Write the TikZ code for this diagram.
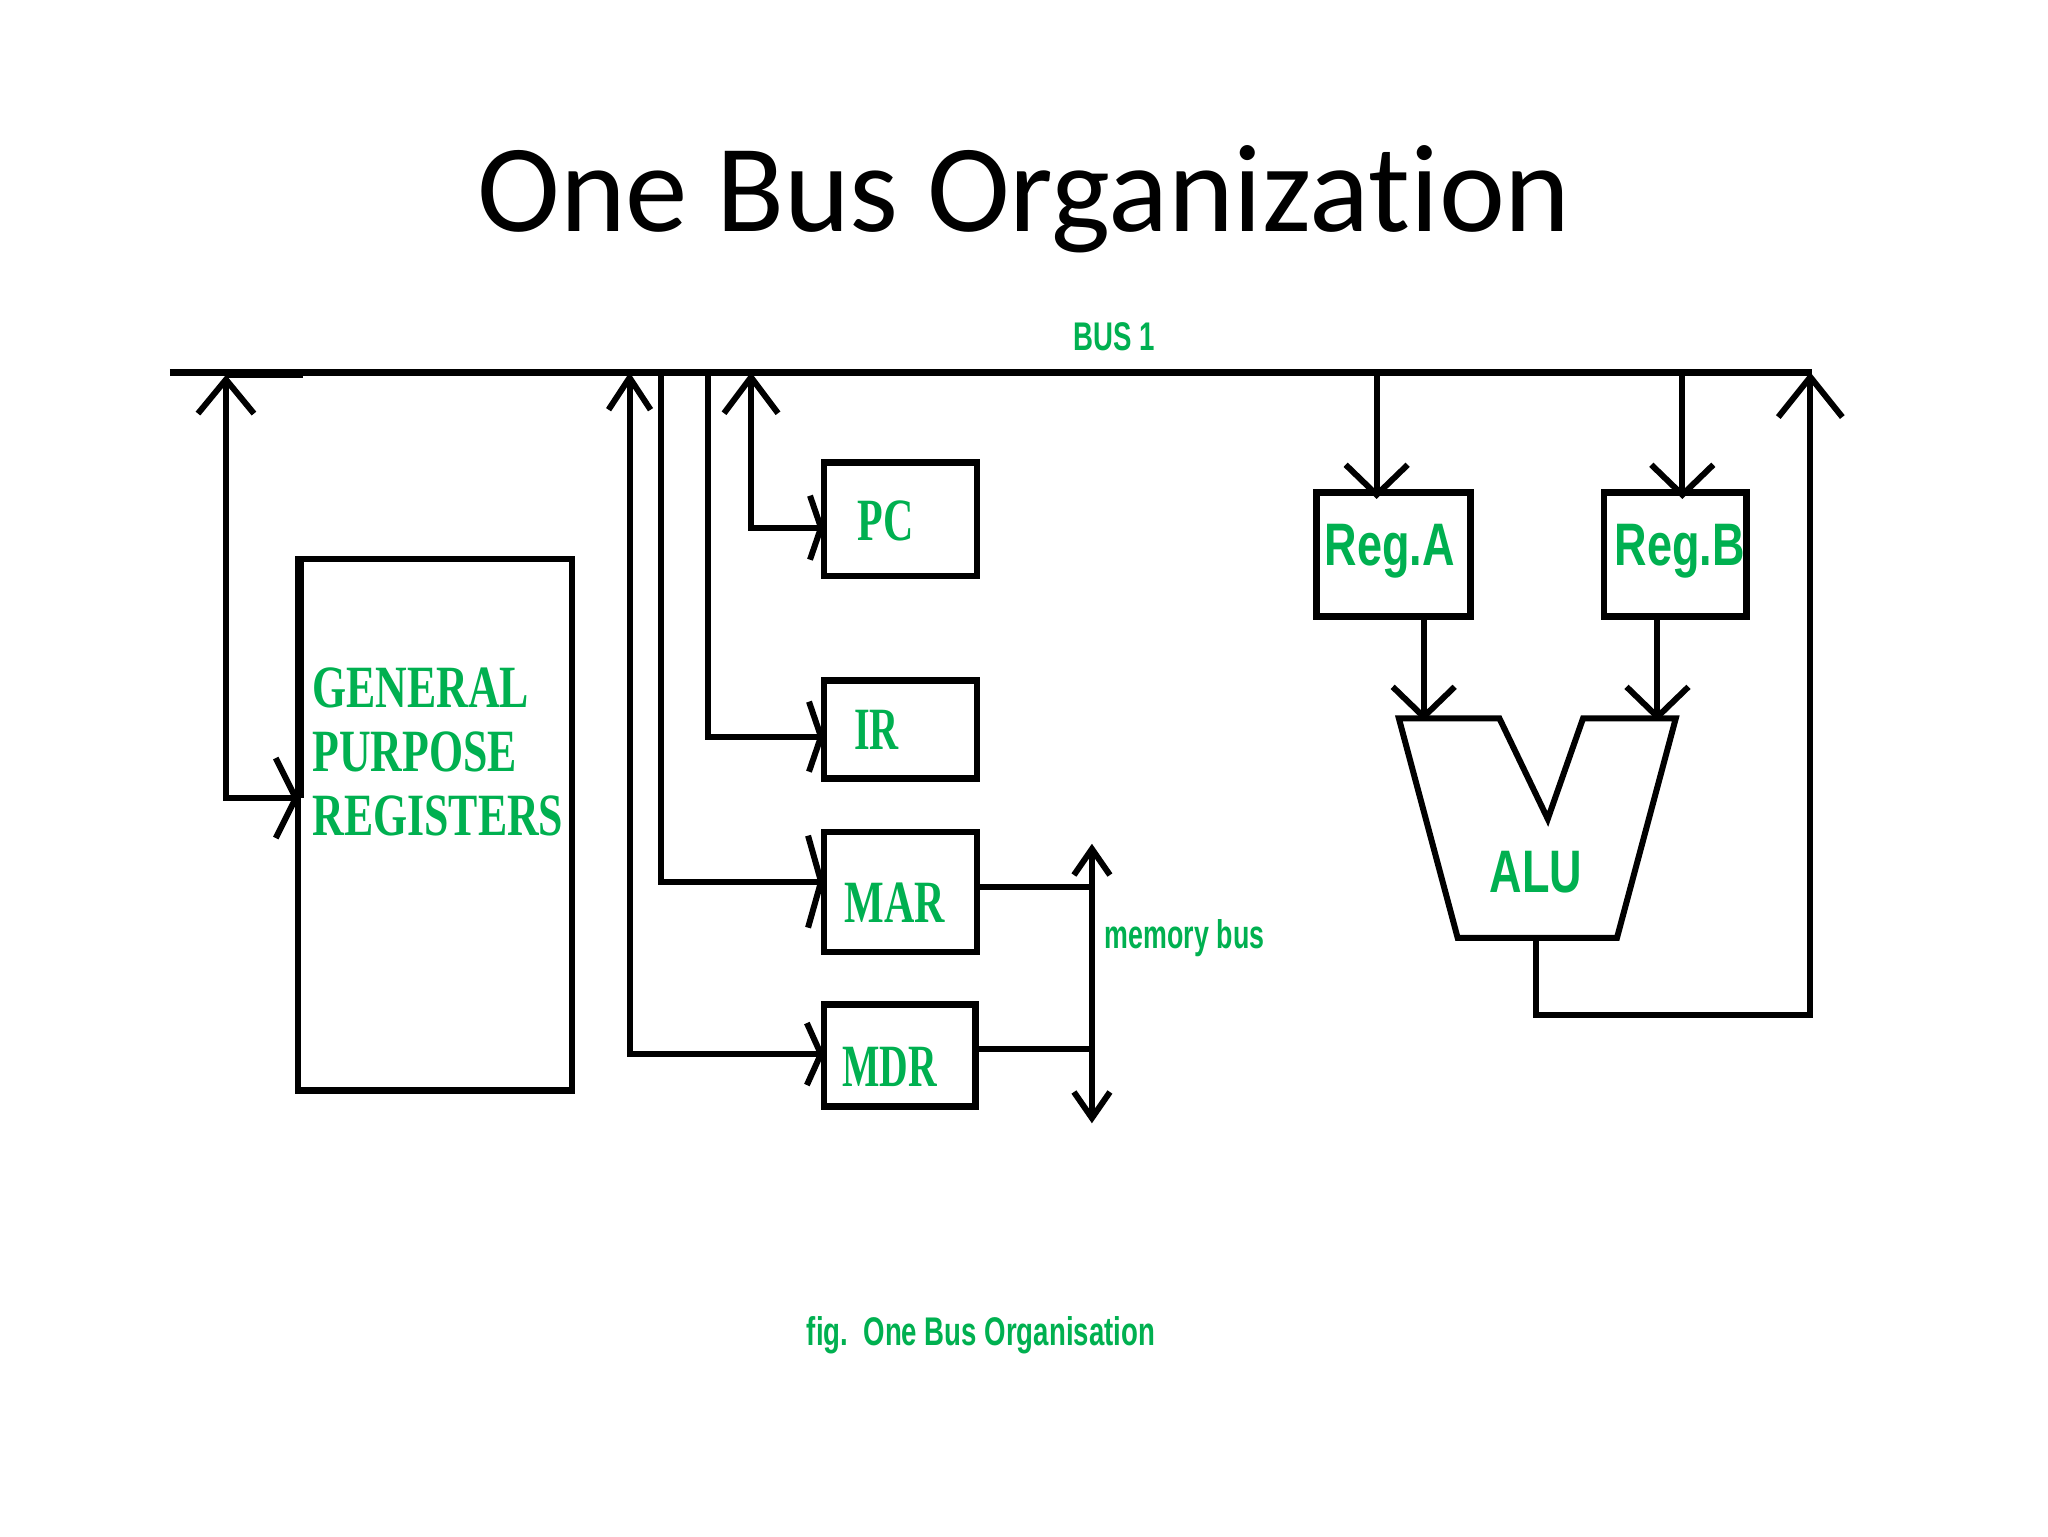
\documentclass[tikz,border=0pt]{standalone}
\usepackage{fontspec}
\usepackage{graphicx}
\setmainfont{Carlito}[Ligatures=NoCommon]
\newfontfamily\labfont{Liberation Sans}[BoldFont={Liberation Sans Bold}]
\newfontfamily\serfont{Liberation Serif}[BoldFont={Liberation Serif Bold}]
\usetikzlibrary{arrows.meta}
\definecolor{slidegreen}{RGB}{0,176,80}
\newcommand{\narrowtext}[2]{\scalebox{#1}[1]{#2}}
\newcommand{\regbox}[5]{\node[regbox,minimum width={(#4-#2)*0.65306pt},minimum height={(#5-#3)*0.65306pt}] (#1) at ({(#2+#4)/2},{(#3+#5)/2}) {};}
\tikzset{
  regbox/.style={draw=black,line width=3.3pt,fill=none,inner sep=0pt,outer sep=0pt},
  wire/.style={draw=black,line width=3pt,line cap=butt,line join=miter},
  bigtip/.tip={Straight Barb[length=20pt,width=32pt]},
  downtip/.tip={Straight Barb[length=15pt,width=31pt]},
  uptipa/.tip={Straight Barb[length=17pt,width=28pt]},
  uptipb/.tip={Straight Barb[length=16pt,width=21pt]},
  uptipc/.tip={Straight Barb[length=18pt,width=27pt]},
  memtip/.tip={Straight Barb[length=13pt,width=18pt]},
  hookpc/.tip={Straight Barb[length=5.5pt,width=32pt]},
  hookir/.tip={Straight Barb[length=6pt,width=35pt]},
  hookmar/.tip={Straight Barb[length=6.5pt,width=46pt]},
  hookmdr/.tip={Straight Barb[length=7pt,width=31pt]},
  hookgpr/.tip={Straight Barb[length=10pt,width=40pt]},
  serlabel/.style={inner sep=0pt,text=slidegreen,font=\serfont\bfseries\fontsize{30}{32}\selectfont},
  sanslabel/.style={inner sep=0pt,text=slidegreen,font=\labfont\bfseries\fontsize{30}{32}\selectfont},
  smalllabel/.style={inner sep=0pt,text=slidegreen,font=\labfont\bfseries\fontsize{20}{22}\selectfont},
}
\begin{document}
\begin{tikzpicture}[x=0.65306pt,y=-0.65306pt]
\useasboundingbox (0,0) rectangle (1568,1176);
\fill[white] (0,0) rectangle (1568,1176);
% title
\node[inner sep=0pt,anchor=base,font=\fontsize{62.5}{66}\selectfont] (title) at (784,177) {One Bus Organization};
% boxes
\regbox{gpr}{228}{428}{438}{835}
\regbox{pc}{631}{354}{748}{441}
\regbox{ir}{631}{521}{748}{596}
\regbox{mar}{631}{637}{748}{729}
\regbox{mdr}{631}{769}{747}{847}
\regbox{rega}{1008}{377}{1126}{472}
\regbox{regb}{1228}{377}{1337}{472}
% ALU outline
\coordinate (aluA) at (1071,550);
\coordinate (aluB) at (1148,550);
\coordinate (aluC) at (1185,627);
\coordinate (aluD) at (1212,550);
\coordinate (aluE) at (1283,550);
\coordinate (aluF) at (1238,718);
\coordinate (aluG) at (1116,718);
\draw[wire] (aluA) -- (aluB) -- (aluC) -- (aluD) -- (aluE) -- (aluF) -- (aluG) -- cycle;
% bus
\coordinate (busL) at (130,285);
\coordinate (busR) at (1387,285);
\draw[wire,line width=3.3pt] (busL) -- (busR);
\coordinate (busAa) at (173,287);
\coordinate (busAb) at (232,287);
\draw[wire,line width=3.3pt] (busAa) -- (busAb);
\coordinate (busB) at (482,285);
\coordinate (busC) at (506,285);
\coordinate (busD) at (542,285);
\coordinate (busE) at (575,285);
\coordinate (busF) at (1054,285);
\coordinate (busG) at (1288,285);
\coordinate (busH) at (1386,285);
% ports
\coordinate (gprIn) at (229,611);
\coordinate (pcIn) at (631,404);
\coordinate (irIn) at (631,564);
\coordinate (marIn) at (631,675);
\coordinate (mdrIn) at (631,807);
\coordinate (regaIn) at (1054,382);
\coordinate (regbIn) at (1288,382);
\coordinate (regaOut) at (1090,472);
\coordinate (regbOut) at (1269,472);
\coordinate (aluInA) at (1090,552);
\coordinate (aluInB) at (1269,552);
\coordinate (aluOut) at (1176,718);
\coordinate (retCorner) at (1386,777);
\coordinate (marOut) at (748,679);
\coordinate (mdrOut) at (748,803);
\coordinate (memTop) at (836,646);
\coordinate (memBot) at (836,860);
\coordinate (gprTop) at (230,428);
\coordinate (gprMid) at (230,611);
% thick part of the register file edge
\draw[wire,line width=4pt] (gprTop) -- (gprMid);
% connectors
\draw[wire,{uptipa}-{hookgpr}] (busAa) |- (gprIn);
\draw[wire,{uptipb}-{hookmdr}] (busB) |- (mdrIn);
\draw[wire,-{hookmar}] (busC) |- (marIn);
\draw[wire,-{hookir}] (busD) |- (irIn);
\draw[wire,{uptipc}-{hookpc}] (busE) |- (pcIn);
\draw[wire,-{downtip}] (busF) -- (regaIn);
\draw[wire,-{downtip}] (busG) -- (regbIn);
\draw[wire,-{downtip}] (regaOut) -- (aluInA);
\draw[wire,-{downtip}] (regbOut) -- (aluInB);
\draw[wire,-{bigtip}] (aluOut) |- (retCorner) -- (busH);
\draw[wire,{memtip}-{memtip}] (memTop) -- (memBot);
\draw[wire] (marOut) -- (marOut -| memTop);
\draw[wire] (mdrOut) -- (mdrOut -| memTop);
% labels
\node[smalllabel] (buslabel) at (853,258) {\narrowtext{0.69}{BUS 1}};
\node[smalllabel] (memlabel) at (907,718) {\narrowtext{0.67}{memory bus}};
\node[smalllabel] (figlabel) at (751,1022) {\narrowtext{0.69}{fig.\ \ One Bus Organisation}};
\node[serlabel,anchor=north west] (gprlabel) at (239,507) {\narrowtext{0.73}{\begin{tabular}{@{}l@{}}GENERAL\\[0pt]PURPOSE\\[0pt]REGISTERS\end{tabular}}};
\node[serlabel] (pclabel) at (678,399) {\narrowtext{0.70}{PC}};
\node[serlabel] (irlabel) at (671,559) {\narrowtext{0.67}{IR}};
\node[serlabel] (marlabel) at (685,691) {\narrowtext{0.70}{MAR}};
\node[serlabel] (mdrlabel) at (681,817) {\narrowtext{0.66}{MDR}};
\node[sanslabel] (regalabel) at (1064,422) {\narrowtext{0.75}{Reg.A}};
\node[sanslabel] (regblabel) at (1286,422) {\narrowtext{0.75}{Reg.B}};
\node[sanslabel] (alulabel) at (1176,668) {\narrowtext{0.75}{ALU}};
\end{tikzpicture}
\end{document}
